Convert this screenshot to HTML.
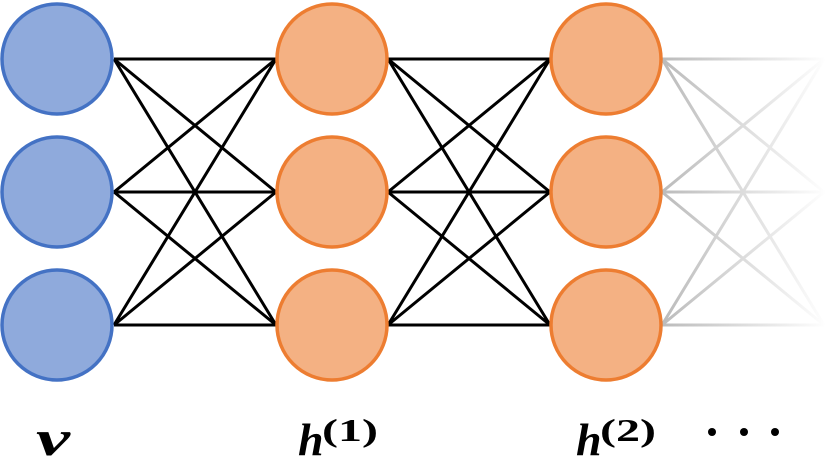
<!DOCTYPE html>
<html><head><style>body{margin:0;background:#fff}svg{display:block}</style></head><body>
<svg width="827" height="462" viewBox="0 0 827 462" xmlns="http://www.w3.org/2000/svg">
<defs><linearGradient id="f" x1="662" x2="827" y1="0" y2="0" gradientUnits="userSpaceOnUse"><stop offset="0" stop-color="#bbb"/><stop offset="1" stop-color="#fff"/></linearGradient></defs>
<g stroke="#000" stroke-width="3" fill="none">
<path d="M114 59L276 59M114 59L276 192M114 59L276 325M114 192L276 59M114 192L276 192M114 192L276 325M114 325L276 59M114 325L276 192M114 325L276 325"/>
<path d="M388 59L550 59M388 59L550 192M388 59L550 325M388 192L550 59M388 192L550 192M388 192L550 325M388 325L550 59M388 325L550 192M388 325L550 325"/>
</g>
<g stroke="url(#f)" stroke-width="3" fill="none">
<path d="M662 59L824 59M662 59L824 192M662 59L824 325M662 192L824 59M662 192L824 192M662 192L824 325M662 325L824 59M662 325L824 192M662 325L824 325"/>
</g>
<g stroke="#4472c4" stroke-width="3.5" fill="#8faadc">
<circle cx="57" cy="59" r="55"/><circle cx="57" cy="192" r="55"/><circle cx="57" cy="325" r="55"/>
</g>
<g stroke="#ed7d31" stroke-width="3.5" fill="#f4b183">
<circle cx="332" cy="59" r="55"/><circle cx="332" cy="192" r="55"/><circle cx="332" cy="325" r="55"/>
<circle cx="606" cy="59" r="55"/><circle cx="606" cy="192" r="55"/><circle cx="606" cy="325" r="55"/>
</g>
<g font-family="Liberation Serif, serif" font-weight="bold" font-style="italic" fill="#000">
<text x="36" y="455" font-size="50" textLength="34" lengthAdjust="spacingAndGlyphs">v</text>
<text x="298" y="455" font-size="46">h</text>
<text x="322" y="441" font-size="32" font-style="normal" textLength="56" lengthAdjust="spacingAndGlyphs">(1)</text>
<text x="576" y="455" font-size="46">h</text>
<text x="600" y="441" font-size="32" font-style="normal" textLength="56" lengthAdjust="spacingAndGlyphs">(2)</text>
</g>
<g fill="#000"><circle cx="712" cy="432" r="4"/><circle cx="744" cy="432" r="4"/><circle cx="775" cy="432" r="4"/></g>
</svg>
</body></html>
